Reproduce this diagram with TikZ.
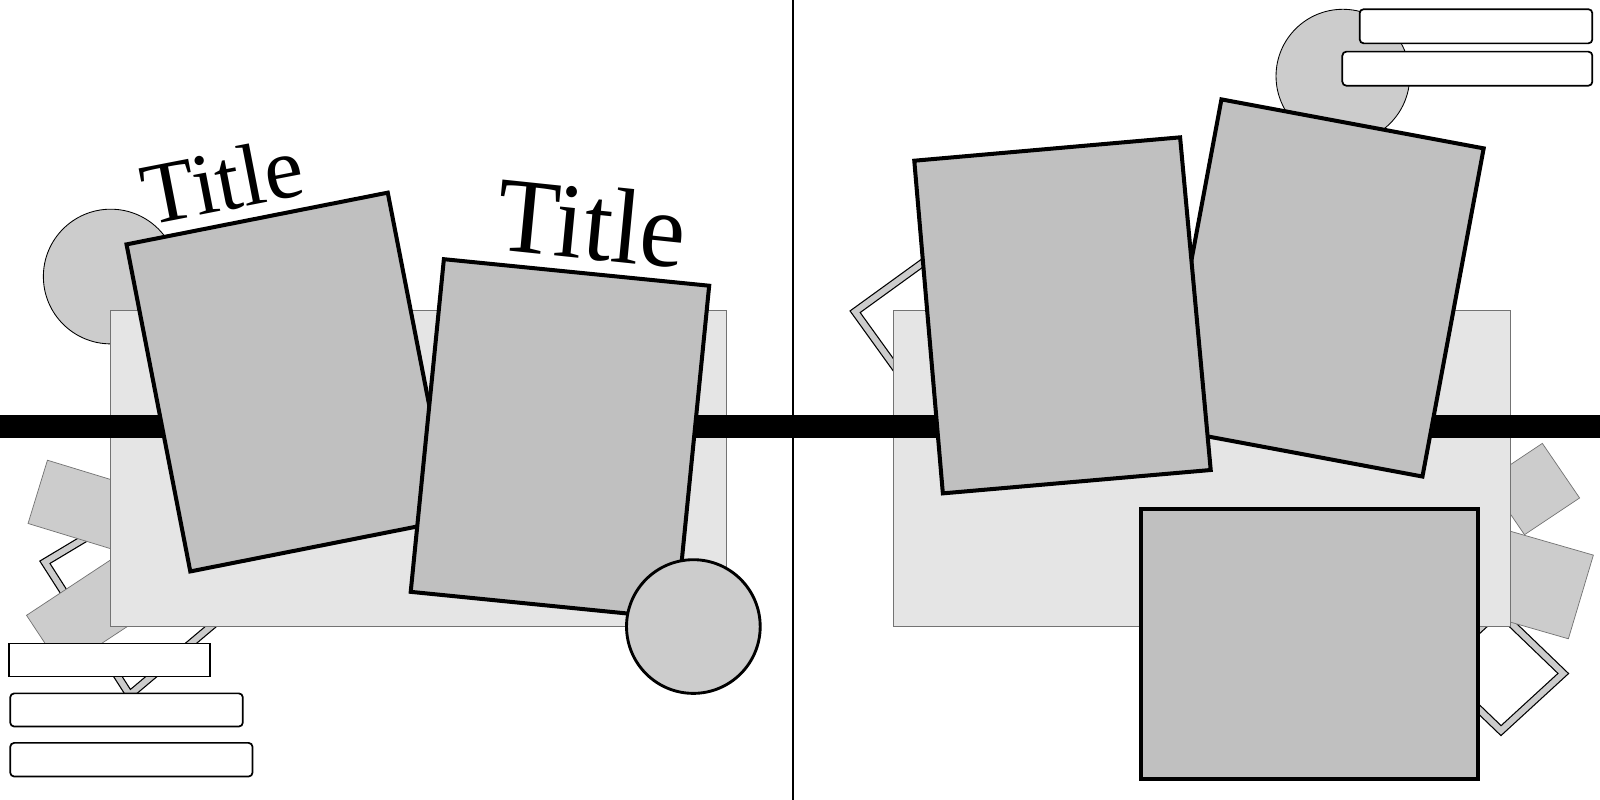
\documentclass[tikz,border=0pt]{standalone}
\usepackage{fontspec}
\newfontfamily\titlefont{Liberation Serif}
\begin{document}
\begin{tikzpicture}[x=0.025cm,y=-0.025cm,line join=miter]
\definecolor{photo}{gray}{0.753}
\definecolor{shape}{gray}{0.80}
\definecolor{mat}{gray}{0.90}
\definecolor{edge}{gray}{0.45}
\tikzset{
  photobox/.style={fill=photo,draw=black,line width=2.8pt},
  matbox/.style={fill=mat,draw=edge,line width=0.6pt},
  accent/.style={fill=shape,draw=edge,line width=0.5pt},
  dotshape/.style={fill=shape,draw=black,line width=0.6pt},
  bigdot/.style={fill=shape,draw=black,line width=2pt},
  bandout/.style={draw=black,line width=5.8pt},
  bandin/.style={draw=shape,line width=4.1pt},
  labelbox/.style={fill=white,draw=black,line width=1.2pt},
  titletext/.style={inner sep=0pt,outer sep=0pt,text=black}
}
% frame
\fill[white] (0,0) rectangle (1568,784);
\useasboundingbox (0,0) rectangle (1568,784);
% centre fold
\draw[black,line width=1pt] (777,0) -- (777,784);
% bands (outlined squares)
\foreach \s in {bandout,bandin}{
  \draw[\s] (44,551) -- (172.5,474) -- (234,591) -- (127,681) -- cycle;
  \draw[\s] (838,305.5) -- (943,229.5) -- (1019,335) -- (914,411) -- cycle;
  \draw[\s] (1532,660) -- (1468.6,599) -- (1407.6,655) -- (1471,716) -- cycle;
}
% small tilted accent rectangles
\draw[accent] (46.5,451) -- (199.5,497.7) -- (180.5,559.7) -- (27.5,513) -- cycle;
\draw[accent] (26,603) -- (159.6,515) -- (194.6,568) -- (61,656) -- cycle;
\draw[accent] (1511.5,434.5) -- (1548,488) -- (1494,524) -- (1457.5,470.5) -- cycle;
\draw[accent] (1417.5,502.6) -- (1561.5,544) -- (1537,626) -- (1393,584.6) -- cycle;
% circles behind
\draw[dotshape] (108.5,271) circle[radius=66];
\draw[dotshape] (1316,74.6) circle[radius=65.5];
% mats
\draw[matbox] (108,303.8) rectangle (712,614);
\draw[matbox] (875.5,303.8) rectangle (1480,614);
% horizontal band
\fill[black] (0,406.7) rectangle (1568,429.6);
% photos
\draw[photobox] (124,239.5) -- (380,188.8) -- (442.5,509.3) -- (186.5,560) -- cycle;
\draw[photobox] (435,254) -- (695,280) -- (662.5,606) -- (402.5,580) -- cycle;
\draw[photobox] (1197,97.4) -- (1454,145.4) -- (1394,467) -- (1137,419) -- cycle;
\draw[photobox] (896,157.5) -- (1156.5,134.6) -- (1186.5,460.6) -- (924,483.5) -- cycle;
\draw[photobox] (1118,499) rectangle (1448,763);
% front circle
\draw[bigdot] (679.5,614) circle[radius=65.5];
% journaling boxes
\draw[labelbox] (9,630.5) rectangle (206,663);
\draw[labelbox,rounded corners=2.8pt] (10,679.5) rectangle (238,712);
\draw[labelbox,rounded corners=2.8pt] (10,728) rectangle (247.5,761);
\draw[labelbox,rounded corners=2.8pt] (1332.5,9) rectangle (1560.5,42.5);
\draw[labelbox,rounded corners=2.8pt] (1315.5,50.6) rectangle (1560.5,84);
% titles
\node[titletext,rotate=11] (titleA) at (218,177) {\titlefont\fontsize{61}{61}\selectfont Title};
\node[titletext,yscale=1.05,rotate=-5.7] (titleB) at (580,218) {\titlefont\fontsize{71}{71}\selectfont Title};
\end{tikzpicture}
\end{document}
